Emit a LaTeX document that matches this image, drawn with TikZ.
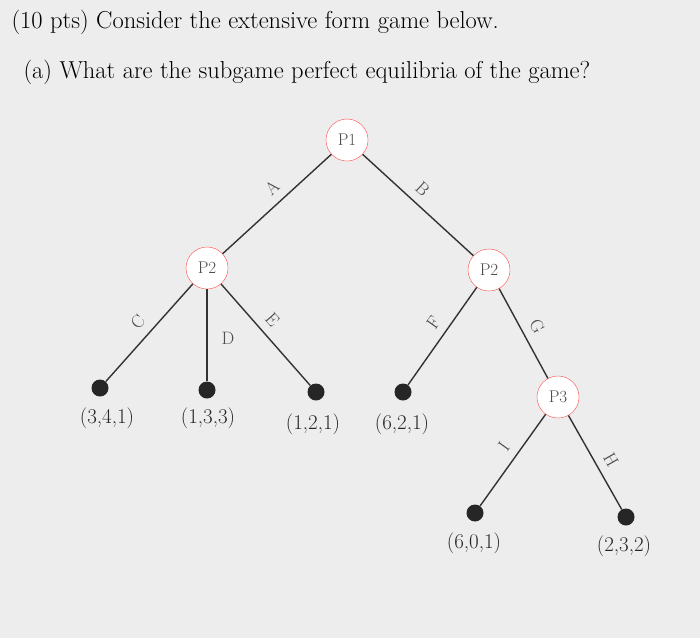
\documentclass[tikz,border=0pt]{standalone}
\begin{document}
\begin{tikzpicture}[x=1pt,y=-1pt,
  pl/.style={circle,draw=red!60!pink,fill=white,minimum size=42pt,inner sep=0pt,font=\fontsize{17}{17}\selectfont,text=black!70},
  leaf/.style={circle,fill=black!85,minimum size=17pt,inner sep=0pt},
  pay/.style={font=\fontsize{21}{21}\selectfont,text=black!85},
  lab/.style={font=\fontsize{18}{18}\selectfont,text=black!70,sloped},
  ed/.style={draw=black!80,line width=1.4pt}]
\fill[black!7] (0,0) rectangle (700,638);
\useasboundingbox (0,0) rectangle (700,638);
\node[anchor=west,font=\fontsize{24.5}{24.5}\selectfont] (t1) at (8,22) {(10 pts) Consider the extensive form game below.};
\node[anchor=west,font=\fontsize{24.5}{24.5}\selectfont] (t2) at (20,72) {(a) What are the subgame perfect equilibria of the game?};
\node[pl] (p1) at (347,140) {P1};
\node[pl] (p2l) at (207,268) {P2};
\node[pl] (p2r) at (489,270) {P2};
\node[pl] (p3) at (558,397) {P3};
\node[leaf] (l1) at (100,388) {};
\node[leaf] (l2) at (207,390) {};
\node[leaf] (l3) at (316,392) {};
\node[leaf] (l4) at (403,392) {};
\node[leaf] (l5) at (475,513) {};
\node[leaf] (l6) at (626,517) {};
\node[pay] (v1) at (107,418) {(3,4,1)};
\node[pay] (v2) at (208,418) {(1,3,3)};
\node[pay] (v3) at (313,424) {(1,2,1)};
\node[pay] (v4) at (402,424) {(6,2,1)};
\node[pay] (v5) at (474,543) {(6,0,1)};
\node[pay] (v6) at (624,546) {(2,3,2)};
\draw[ed] (p1) -- node[lab,above=5pt,pos=0.45]{A} (p2l);
\draw[ed] (p1) -- node[lab,above=5pt,pos=0.45]{B} (p2r);
\draw[ed] (p2l) -- node[lab,above=5pt,pos=0.5]{C} (l1);
\draw[ed] (p2l) -- (l2);
\node[lab] (dl) at (228,338) {D};
\draw[ed] (p2l) -- node[lab,above=5pt,pos=0.45]{E} (l3);
\draw[ed] (p2r) -- node[lab,above=5pt,pos=0.45]{F} (l4);
\draw[ed] (p2r) -- node[lab,above=5pt,pos=0.5]{G} (p3);
\draw[ed] (p3) -- node[lab,above=5pt,pos=0.45]{I} (l5);
\draw[ed] (p3) -- node[lab,above=5pt,pos=0.55]{H} (l6);
\end{tikzpicture}
\end{document}
